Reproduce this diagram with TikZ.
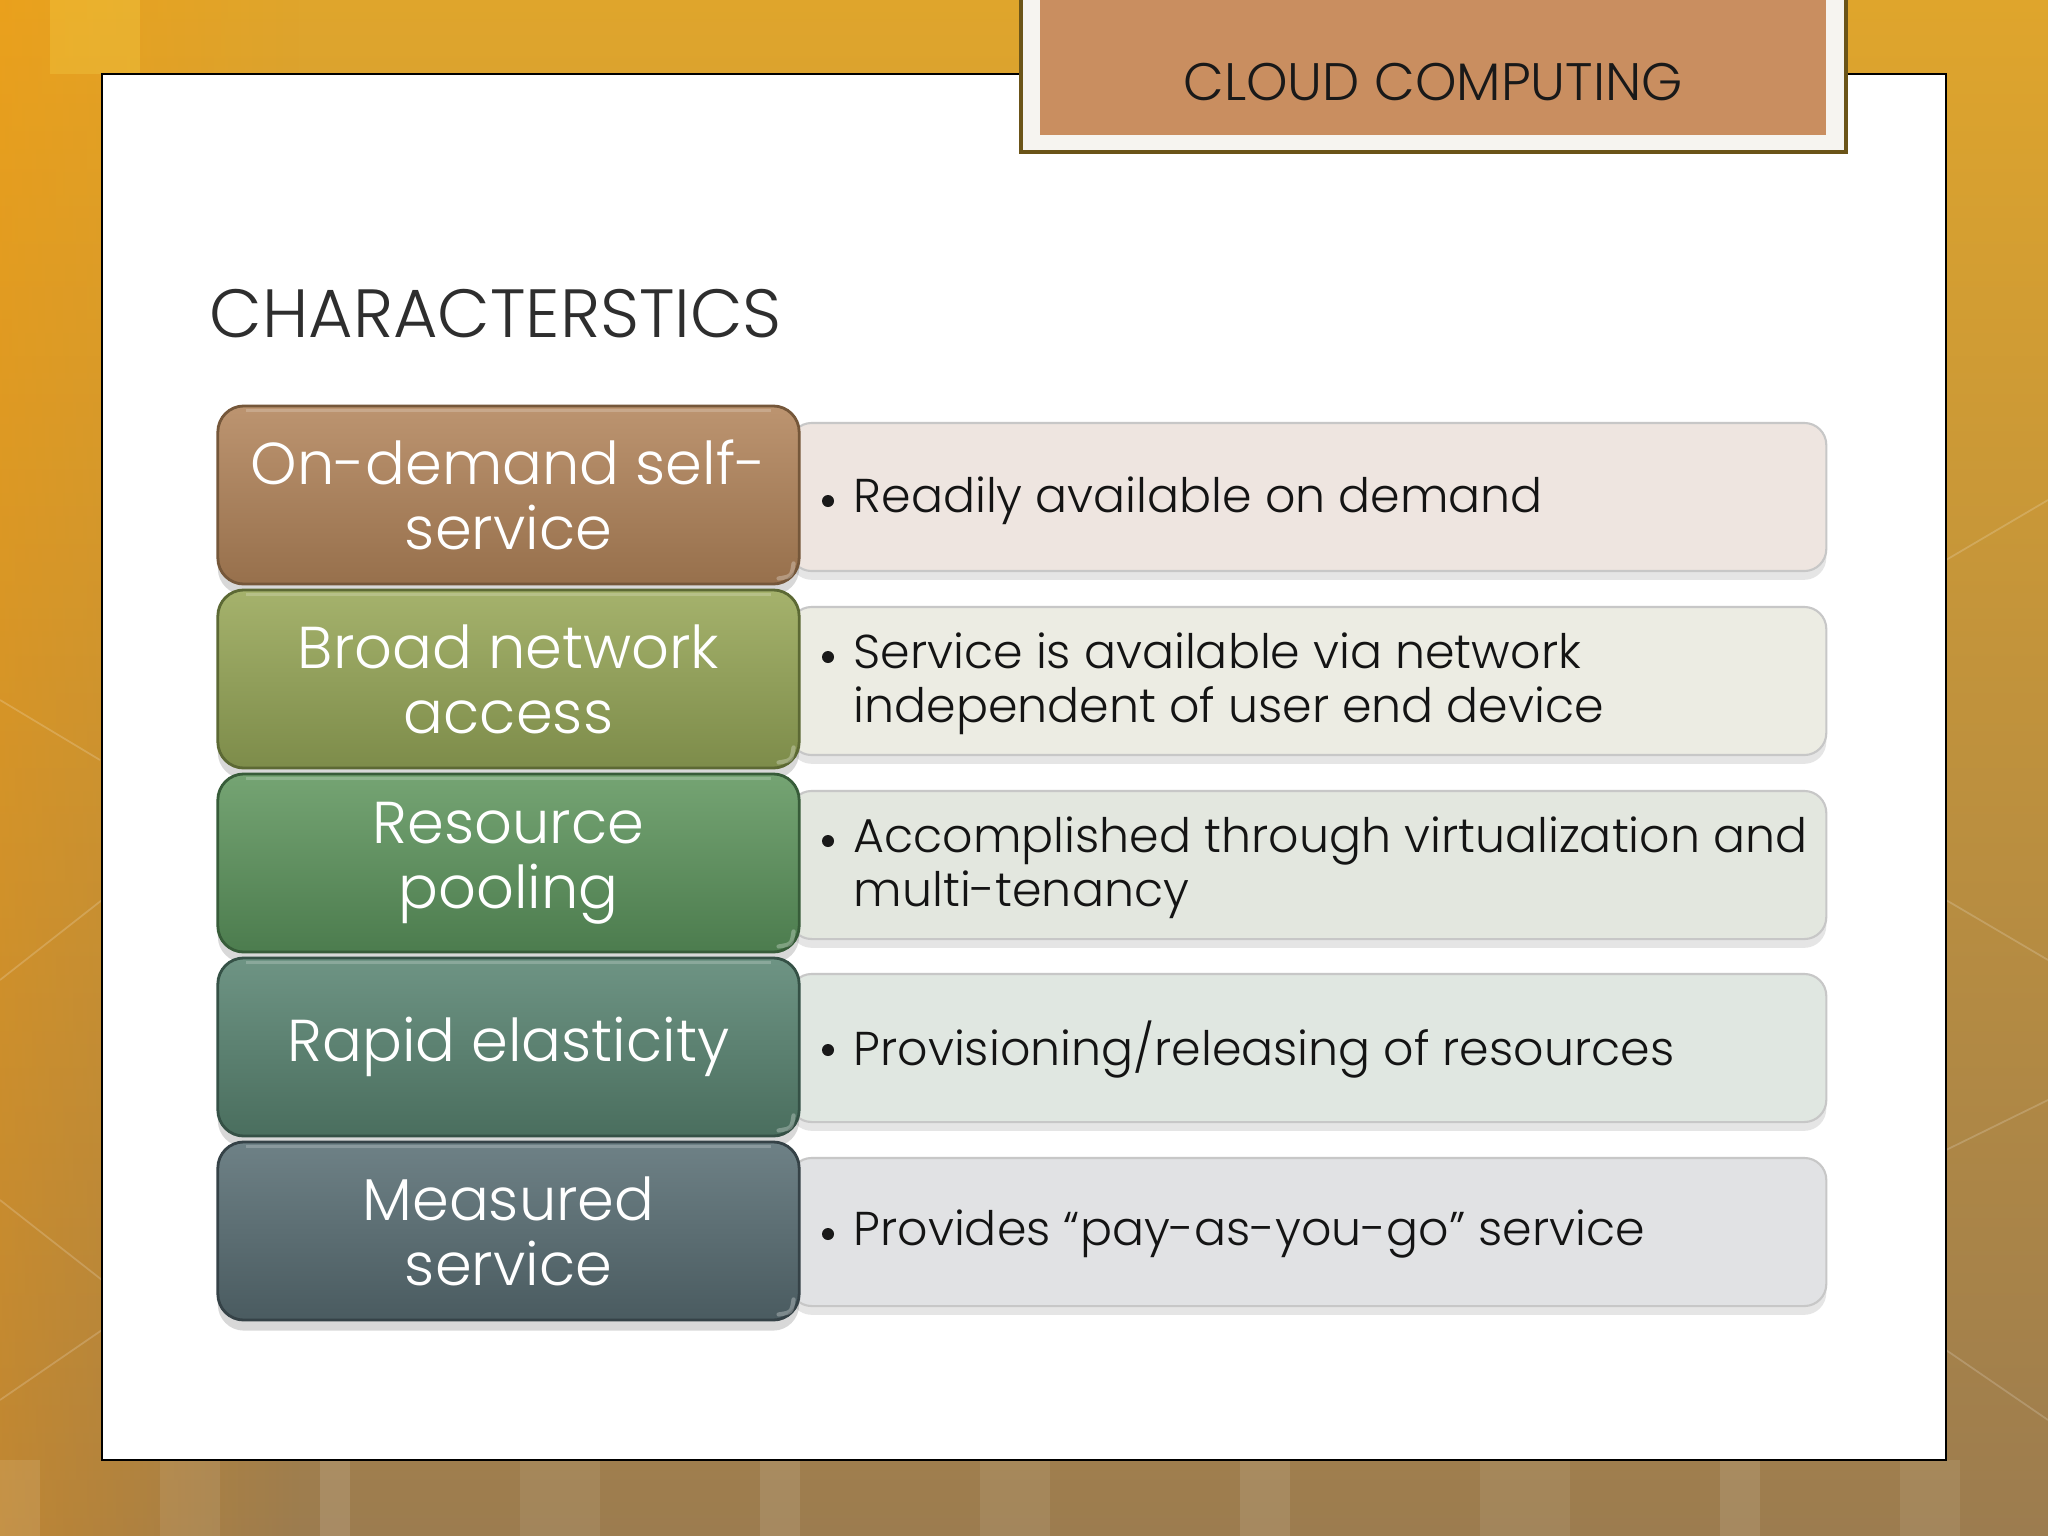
\documentclass[tikz,border=0pt]{standalone}
\usepackage{fontspec}
\setmainfont{Poppins Light}
\usetikzlibrary{shadows,fadings}
\definecolor{bgtop}{HTML}{DFA52C}
\definecolor{bgmid}{HTML}{C7953E}
\definecolor{bgbot}{HTML}{9C7C4F}
\definecolor{titlebrd}{HTML}{6B5418}
\definecolor{titlewhite}{HTML}{F6F4F0}
\definecolor{titlefill}{HTML}{C98E60}
\definecolor{b1top}{HTML}{BC9470}\definecolor{b1bot}{HTML}{97704C}\definecolor{b1draw}{HTML}{75573A}
\definecolor{b2top}{HTML}{A5B26C}\definecolor{b2bot}{HTML}{7D8C4A}\definecolor{b2draw}{HTML}{5C6934}
\definecolor{b3top}{HTML}{75A473}\definecolor{b3bot}{HTML}{4C7C4E}\definecolor{b3draw}{HTML}{375C39}
\definecolor{b4top}{HTML}{6E9484}\definecolor{b4bot}{HTML}{4A6E5E}\definecolor{b4draw}{HTML}{355146}
\definecolor{b5top}{HTML}{6E8186}\definecolor{b5bot}{HTML}{4A5B60}\definecolor{b5draw}{HTML}{354247}
\definecolor{r1}{HTML}{EEE5E0}\definecolor{r2}{HTML}{ECECE3}\definecolor{r3}{HTML}{E3E7DF}
\definecolor{r4}{HTML}{E0E7E1}\definecolor{r5}{HTML}{E1E2E4}
\tikzset{
 lbox/.style={rounded corners=0.26cm, minimum width=5.81cm, minimum height=1.78cm, draw, line width=0.8pt,
   text=white, align=center, font=\fontsize{16.8}{18.5}\selectfont, inner sep=0pt,
   drop shadow={shadow xshift=0pt, shadow yshift=-3pt, opacity=0.3}},
 rbox/.style={rounded corners=0.22cm, minimum width=10.36cm, minimum height=1.48cm, draw=black!22, line width=0.6pt,
   drop shadow={shadow xshift=0pt, shadow yshift=-2.5pt, opacity=0.2}},
 bul/.style={circle, fill=black!90, inner sep=0pt, minimum size=0.12cm},
 rtext/.style={anchor=west, align=left, text=black!92, font=\fontsize{13.5}{15.4}\selectfont, inner sep=0pt},
 gloss/.style={white, opacity=0.28, line width=1.2pt, line cap=round},
 topgloss/.style={white, opacity=0.2, line width=0.8pt},
}
\begin{document}
\begin{tikzpicture}[x=0.01cm,y=-0.01cm]
\useasboundingbox (0,0) rectangle (2048,1536);
% background
\shade[top color=bgtop, middle color=bgmid, bottom color=bgbot] (0,0) rectangle (2048,1536);
\fill[orange!80!yellow, opacity=0.35, path fading=east] (0,0) rectangle (300,1536);
\fill[yellow!60!white, opacity=0.18] (50,0) rectangle (140,74);
\foreach \x/\w/\o in {0/40/0.10,160/60/0.08,320/30/0.12,520/80/0.07,760/40/0.10,980/70/0.08,1240/50/0.10,1480/90/0.07,1720/40/0.10,1900/60/0.08}{
  \fill[white, opacity=\o] (\x,1460) rectangle (\x+\w,1536);
}
\foreach \a/\b/\c/\d in {0/700/100/760, 0/980/102/900, 0/1200/102/1280, 1946/560/2048/500, 1946/900/2048/960, 1946/1150/2048/1100, 0/1400/102/1330, 1946/1350/2048/1420}{
  \draw[white, opacity=0.18, line width=0.5pt] (\a,\b) -- (\c,\d);
}
% panel
\draw[black, line width=0.7pt, fill=white] (102,74) rectangle (1946,1460);
% title box
\fill[titlebrd] (1019,-5) rectangle (1848,154);
\fill[titlewhite] (1023,-5) rectangle (1844,150);
\fill[titlefill] (1040,-5) rectangle (1826,135);
\node[anchor=base, text=black!90, font=\fontsize{15}{16}\selectfont, inner sep=0pt] (title) at (1433,100) {CLOUD COMPUTING};
% heading
\node[anchor=base west, text=black!82, font=\fontsize{19.4}{20}\selectfont, inner sep=0pt] (head) at (209,337) {CHARACTERSTICS};
% right boxes
\node[rbox, fill=r1] (rb1) at (1308,497) {};
\node[rbox, fill=r2] (rb2) at (1308,681) {};
\node[rbox, fill=r3] (rb3) at (1308,865) {};
\node[rbox, fill=r4] (rb4) at (1308,1048) {};
\node[rbox, fill=r5] (rb5) at (1308,1232) {};
% left boxes
\node[lbox, top color=b1top, bottom color=b1bot, draw=b1draw] (lb1) at (508.5,495) {On-demand self-\\service};
\node[lbox, top color=b2top, bottom color=b2bot, draw=b2draw] (lb2) at (508.5,679) {Broad network\\access};
\node[lbox, top color=b3top, bottom color=b3bot, draw=b3draw] (lb3) at (508.5,863) {Resource\\pooling};
\node[lbox, top color=b4top, bottom color=b4bot, draw=b4draw] (lb4) at (508.5,1047) {Rapid elasticity};
\node[lbox, top color=b5top, bottom color=b5bot, draw=b5draw] (lb5) at (508.5,1231) {Measured\\service};
% glossy highlights
\foreach \n in {lb1,lb2,lb3,lb4,lb5}{
  \draw[gloss] ([xshift=-0.22cm,yshift=0.07cm]\n.south east) .. controls ([xshift=-0.09cm,yshift=0.09cm]\n.south east) .. ([xshift=-0.07cm,yshift=0.22cm]\n.south east);
  \draw[topgloss] ([xshift=0.3cm,yshift=-0.06cm]\n.north west) -- ([xshift=-0.3cm,yshift=-0.06cm]\n.north east);
}
% texts
\node[bul] (u1) at (828,501) {};
\node[rtext] (t1) at (853,501) {Readily available on demand};
\node[bul] (u2) at (828,657) {};
\node[rtext] (t2) at (853,684) {Service is available via network\\independent of user end device};
\node[bul] (u3) at (828,841) {};
\node[rtext] (t3) at (853,868) {Accomplished through virtualization and\\multi-tenancy};
\node[bul] (u4) at (828,1050) {};
\node[rtext] (t4) at (853,1050) {Provisioning/releasing of resources};
\node[bul] (u5) at (828,1234) {};
\node[rtext] (t5) at (853,1234) {Provides “pay-as-you-go” service};
\end{tikzpicture}
\end{document}
